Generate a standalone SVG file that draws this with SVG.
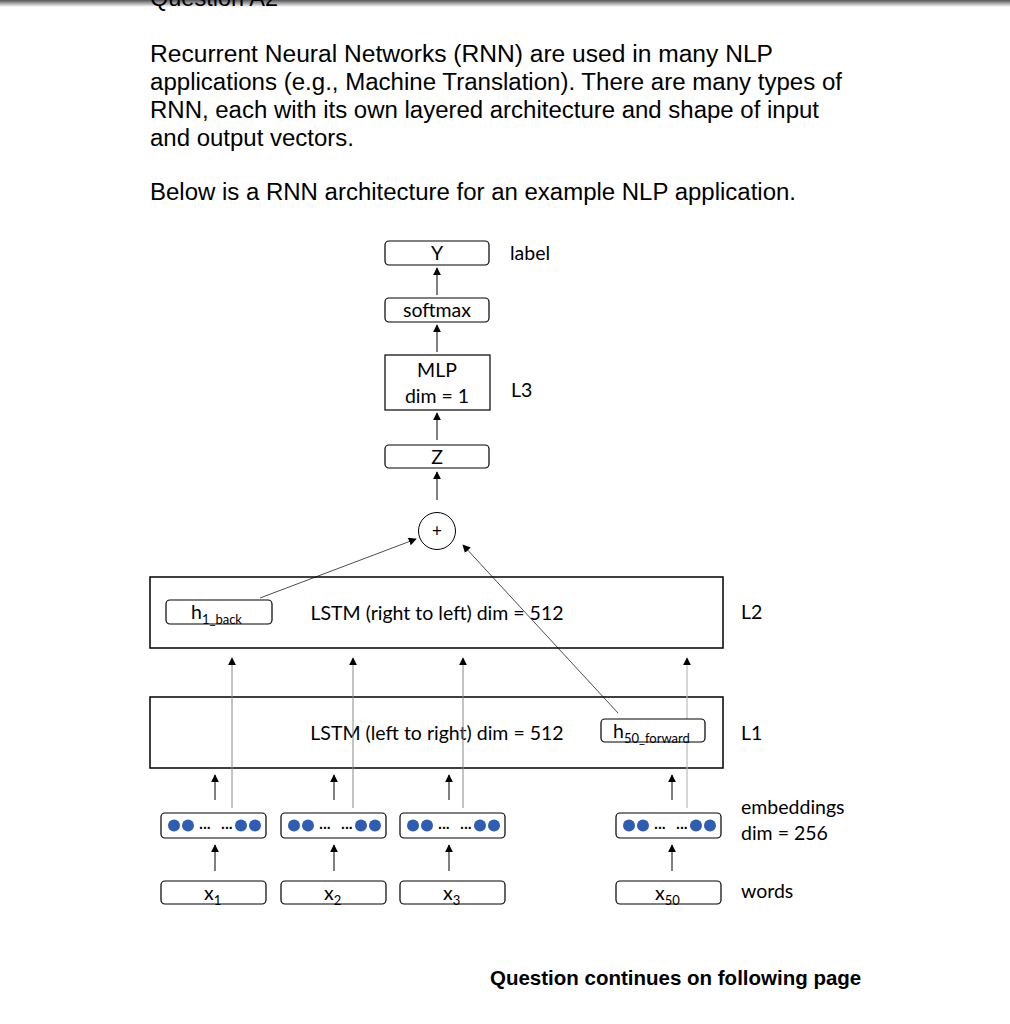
<svg xmlns="http://www.w3.org/2000/svg" width="1010" height="1024" viewBox="0 0 1010 1024">
<defs>
<linearGradient id="topg" x1="0" y1="0" x2="0" y2="1">
<stop offset="0" stop-color="#555"/>
<stop offset="0.4" stop-color="#999"/>
<stop offset="1" stop-color="#fff"/>
</linearGradient>
<marker id="ah" viewBox="0 0 10 10" refX="9" refY="5" markerWidth="8" markerHeight="8" markerUnits="userSpaceOnUse" orient="auto">
<path d="M0,0 L10,5 L0,10 z" fill="#000"/>
</marker>
</defs>
<style>
.para{font-family:"Liberation Sans",Arial,sans-serif;font-size:23.5px;fill:#000}
.lbl{font-family:Lato,"Open Sans",sans-serif;font-size:19.5px;fill:#000}
.ctr{text-anchor:middle}
.sub{font-size:13px}
.box{fill:#fff;stroke:#000;stroke-width:1.2}
.lay{fill:#fff;stroke:#000;stroke-width:1.5}
.ar{stroke:#000;stroke-width:1;fill:none;marker-end:url(#ah)}
.gl{stroke:#888;stroke-width:1;fill:none;marker-end:url(#ah)}
.gl2{stroke:#bbb;stroke-width:1.2;fill:none;marker-end:url(#ah)}
.thin{stroke:#000;stroke-width:0.7;fill:none;marker-end:url(#ah)}
.dot{fill:#2F5DB3}
.dots{font-family:"Liberation Sans",sans-serif;font-size:14px;font-weight:bold;fill:#000}
</style>
<rect width="1010" height="1024" fill="#fff"/>
<rect x="0" y="0" width="1010" height="7" fill="url(#topg)"/>
<text class="para" x="150" y="6">Question A2</text>
<text class="para" x="150" y="62" textLength="623" lengthAdjust="spacingAndGlyphs">Recurrent Neural Networks (RNN) are used in many NLP</text>
<text class="para" x="150" y="90" textLength="692" lengthAdjust="spacingAndGlyphs">applications (e.g., Machine Translation). There are many types of</text>
<text class="para" x="150" y="118" textLength="669" lengthAdjust="spacingAndGlyphs">RNN, each with its own layered architecture and shape of input</text>
<text class="para" x="150" y="146" textLength="204" lengthAdjust="spacingAndGlyphs">and output vectors.</text>
<text class="para" x="150" y="200" textLength="646" lengthAdjust="spacingAndGlyphs">Below is a RNN architecture for an example NLP application.</text>

<g id="layer-L2"><rect class="lay" x="150" y="577" width="573" height="71"/><text class="lbl ctr" x="437" y="620">LSTM (right to left) dim = 512</text></g>
<g id="layer-L1"><rect class="lay" x="150" y="697" width="573" height="71"/><text class="lbl ctr" x="437" y="740">LSTM (left to right) dim = 512</text></g>

<g id="connectors">
<line class="ar" x1="437" y1="295" x2="437" y2="268"/>
<line class="ar" x1="437" y1="352" x2="437" y2="325"/>
<line class="ar" x1="437" y1="440" x2="437" y2="413"/>
<line class="ar" x1="437" y1="500" x2="437" y2="472"/>
<line class="thin" x1="260" y1="598" x2="416" y2="539"/>
<line class="thin" x1="618" y1="713" x2="463" y2="545"/>
<line class="gl" x1="232" y1="808" x2="232" y2="658"/>
<line class="gl" x1="353" y1="808" x2="353" y2="658"/>
<line class="gl" x1="463" y1="808" x2="463" y2="658"/>
<line class="gl2" x1="687" y1="808" x2="687" y2="658"/>
<line class="ar" x1="215" y1="800" x2="215" y2="775"/>
<line class="ar" x1="334" y1="800" x2="334" y2="775"/>
<line class="ar" x1="449" y1="800" x2="449" y2="775"/>
<line class="ar" x1="672" y1="800" x2="672" y2="775"/>
<line class="ar" x1="215" y1="871" x2="215" y2="845"/>
<line class="ar" x1="334" y1="871" x2="334" y2="845"/>
<line class="ar" x1="449" y1="871" x2="449" y2="845"/>
<line class="ar" x1="672" y1="871" x2="672" y2="845"/>
</g>

<g id="node-Y"><rect class="box" x="385" y="241" width="104" height="24" rx="4"/><text class="lbl ctr" x="437" y="260">Y</text></g>
<g id="node-softmax"><rect class="box" x="385" y="298" width="104" height="24" rx="4"/><text class="lbl ctr" x="437" y="317">softmax</text></g>
<g id="node-MLP"><rect class="box" x="385" y="355" width="105" height="55"/><text class="lbl ctr" x="437" y="377">MLP</text><text class="lbl ctr" x="437" y="403">dim = 1</text></g>
<g id="node-Z"><rect class="box" x="385" y="445" width="104" height="23" rx="4"/><text class="lbl ctr" x="437" y="464">Z</text></g>
<g id="node-plus"><circle cx="437" cy="531" r="18.5" fill="#fff" stroke="#000" stroke-width="1"/><text class="lbl ctr" x="437" y="537" style="font-size:17px">+</text></g>

<g id="node-h1back"><rect class="box" x="166" y="600" width="106" height="24" rx="4"/><text class="lbl" x="191" y="619">h<tspan class="sub" dy="5">1_back</tspan></text></g>
<g id="node-h50forward"><rect class="box" x="601" y="719" width="104" height="23" rx="4"/><text class="lbl" x="613" y="738">h<tspan class="sub" dy="5">50_forward</tspan></text></g>

<g id="node-e1"><rect class="box" x="161" y="813" width="105" height="25" rx="4"/><circle class="dot" cx="174" cy="825.5" r="6"/><circle class="dot" cx="188" cy="825.5" r="6"/><text class="dots" x="199" y="829">...</text><text class="dots" x="221" y="829">...</text><circle class="dot" cx="241" cy="825.5" r="6"/><circle class="dot" cx="255" cy="825.5" r="6"/></g>
<g id="node-e2"><rect class="box" x="281" y="813" width="105" height="25" rx="4"/><circle class="dot" cx="294" cy="825.5" r="6"/><circle class="dot" cx="308" cy="825.5" r="6"/><text class="dots" x="319" y="829">...</text><text class="dots" x="341" y="829">...</text><circle class="dot" cx="361" cy="825.5" r="6"/><circle class="dot" cx="375" cy="825.5" r="6"/></g>
<g id="node-e3"><rect class="box" x="400" y="813" width="105" height="25" rx="4"/><circle class="dot" cx="413" cy="825.5" r="6"/><circle class="dot" cx="427" cy="825.5" r="6"/><text class="dots" x="438" y="829">...</text><text class="dots" x="460" y="829">...</text><circle class="dot" cx="480" cy="825.5" r="6"/><circle class="dot" cx="494" cy="825.5" r="6"/></g>
<g id="node-e50"><rect class="box" x="616" y="813" width="105" height="25" rx="4"/><circle class="dot" cx="629" cy="825.5" r="6"/><circle class="dot" cx="643" cy="825.5" r="6"/><text class="dots" x="654" y="829">...</text><text class="dots" x="676" y="829">...</text><circle class="dot" cx="696" cy="825.5" r="6"/><circle class="dot" cx="710" cy="825.5" r="6"/></g>

<g id="node-x1"><rect class="box" x="161" y="881" width="105" height="23" rx="4"/><text class="lbl" x="204" y="900">x<tspan class="sub" dy="5">1</tspan></text></g>
<g id="node-x2"><rect class="box" x="281" y="881" width="105" height="23" rx="4"/><text class="lbl" x="324" y="900">x<tspan class="sub" dy="5">2</tspan></text></g>
<g id="node-x3"><rect class="box" x="400" y="881" width="105" height="23" rx="4"/><text class="lbl" x="443" y="900">x<tspan class="sub" dy="5">3</tspan></text></g>
<g id="node-x50"><rect class="box" x="616" y="881" width="105" height="23" rx="4"/><text class="lbl" x="655" y="900">x<tspan class="sub" dy="5">50</tspan></text></g>

<g id="side-labels">
<text class="lbl" x="510" y="260">label</text>
<text class="lbl" x="511" y="397">L3</text>
<text class="lbl" x="741" y="619">L2</text>
<text class="lbl" x="741" y="740">L1</text>
<text class="lbl" x="741" y="814">embeddings</text>
<text class="lbl" x="741" y="840">dim = 256</text>
<text class="lbl" x="741" y="898">words</text>
</g>
<text x="490" y="985" style="font-family:'Liberation Sans',Arial,sans-serif;font-size:20.5px;font-weight:bold">Question continues on following page</text>
</svg>
